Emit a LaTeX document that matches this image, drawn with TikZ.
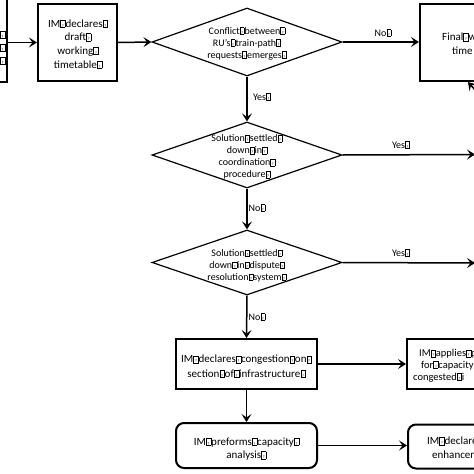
\documentclass[tikz,border=0pt]{standalone}
\usepackage{fontspec}
\setmainfont{Carlito}
\usetikzlibrary{shapes.geometric,arrows.meta}
\newcommand{\qb}{\kern0.1pt{\fboxsep=0pt\fboxrule=0.45pt\fbox{\rule{0pt}{0.62em}\makebox[0.38em]{\fontsize{4}{4}\selectfont ?}}}\kern0.1pt}
\begin{document}
\begin{tikzpicture}[x=1pt,y=-1pt,
  tbox/.style={draw, line width=2.2pt, inner sep=0pt},
  mbox/.style={draw, line width=2pt, inner sep=0pt},
  rbox/.style={draw, line width=2pt, rounded corners=8pt, inner sep=0pt},
  dia/.style={draw, diamond, line width=1.2pt, inner sep=0pt},
  btext/.style={align=center, font=\fontsize{11}{13.7}\selectfont, inner sep=0pt},
  dtext/.style={align=center, font=\fontsize{10}{12}\selectfont, inner sep=0pt},
  lbl/.style={font=\fontsize{10}{12}\selectfont, inner sep=0pt},
  ptext/.style={anchor=base west, font=\fontsize{11}{13}\selectfont, inner sep=0pt},
  arr/.style={-{Stealth[length=8pt,width=10pt,inset=3.5pt]}, line width=1.5pt}]
\useasboundingbox (0,0) rectangle (474,474);
\clip (0,0) rectangle (474,474);
\fill[white] (0,0) rectangle (474,474);

% left (cut) box
\node[tbox, minimum width=60pt, minimum height=90pt] (b1) at (-23,37) {};
\node[anchor=east, inner sep=0pt, font=\fontsize{11}{13}\selectfont] (q1) at (5.5,35) {\qb};
\node[anchor=east, inner sep=0pt, font=\fontsize{11}{13}\selectfont] (q2) at (5.5,48) {\qb};
\node[anchor=east, inner sep=0pt, font=\fontsize{11}{13}\selectfont] (q3) at (5.5,61) {\qb};

\node[tbox, minimum width=79pt, minimum height=77pt] (b2) at (77.5,42.5) {};
\node[btext] (t2) at (78,44) {IM\qb declares\qb\\draft\qb\\working\qb\\timetable\qb};

\node[dia, minimum width=190pt, minimum height=68pt] (d1) at (247,42) {};
\node[dtext] (t3) at (247,43.5) {Conflict\qb between\qb\\RU's\qb train-path\qb\\requests\qb emerges\qb};

\node[tbox, minimum width=120pt, minimum height=77pt] (fin) at (480,42.5) {};
\node[ptext] (f1) at (442,40.5) {Final\qb w};
\node[ptext] (f2) at (452,54.5) {time};

\node[dia, minimum width=190pt, minimum height=66pt] (d2) at (247,155) {};
\node[dtext] (t4) at (247,157) {Solution\qb settled\qb\\down\qb in\qb\\coordination\qb\\procedure\qb};

\node[dia, minimum width=190pt, minimum height=65pt] (d3) at (247,262.5) {};
\node[dtext] (t5) at (247,265.5) {Solution\qb settled\qb\\down\qb in\qb dispute\qb\\resolution\qb system\qb};

\coordinate (e2) at (475,154.5);
\coordinate (e3) at (475,263);

\node[mbox, minimum width=141pt, minimum height=50pt] (b4) at (246.5,364) {};
\node[btext, font=\fontsize{11}{14.5}\selectfont] (t6) at (246.5,366.5) {IM\qb declares\qb congestion\qb on\qb\\section\qb of\qb infrastructure\qb};

\node[mbox, minimum width=130pt, minimum height=50pt] (b5) at (472,364) {};
\node[ptext, font=\fontsize{10.5}{12}\selectfont] (p1) at (419,356.5) {IM\qb applies\qb p};
\node[ptext, font=\fontsize{10.5}{12}\selectfont] (p2) at (421,368) {for\qb capacity\qb};
\node[ptext, font=\fontsize{10.5}{12}\selectfont] (p3) at (413,380) {congested\qb i};

\node[rbox, minimum width=141pt, minimum height=45pt] (b6) at (246.5,445.5) {};
\node[btext] (t7) at (246.5,449) {IM\qb preforms\qb capacity\qb\\analysis\qb};

\node[rbox, minimum width=130pt, minimum height=44pt] (b7) at (473,446.5) {};
\node[ptext] (r1) at (427,444.5) {IM\qb declare};
\node[ptext] (r2) at (432,458.5) {enhancem};

% connectors
\draw[arr] (b1.east |- b2.west) -- (b2.west);
\draw[arr] (b2.east) -- (d1.west);
\draw[arr] (d1.east) -- (fin.west |- d1.east);
\node[lbl] (l1) at (383,33) {No\qb};
\draw[arr] (d1.south) -- (d2.north);
\node[lbl] (l2) at (262,97) {Yes\qb};
\draw[arr] (d2.east) -- (e2);
\node[lbl] (l3) at (401,145) {Yes\qb};
\draw[arr] (d2.south) -- (d3.north);
\node[lbl] (l4) at (257,208) {No\qb};
\draw[arr] (d3.east) -- (e3);
\node[lbl] (l5) at (401,253) {Yes\qb};
\draw[arr] (d3.south) -- (b4.north);
\node[lbl] (l6) at (257,317) {No\qb};
\draw[arr] (b4.east) -- (b5.west);
\draw[arr] (b4.south) -- (b6.north);
\draw[arr] (b6.east) -- (b7.west |- b6.east);
\coordinate (fa) at (484,100);
\coordinate (fb) at (468,82);
\draw[arr] (fa) -- (fb);
\end{tikzpicture}
\end{document}
